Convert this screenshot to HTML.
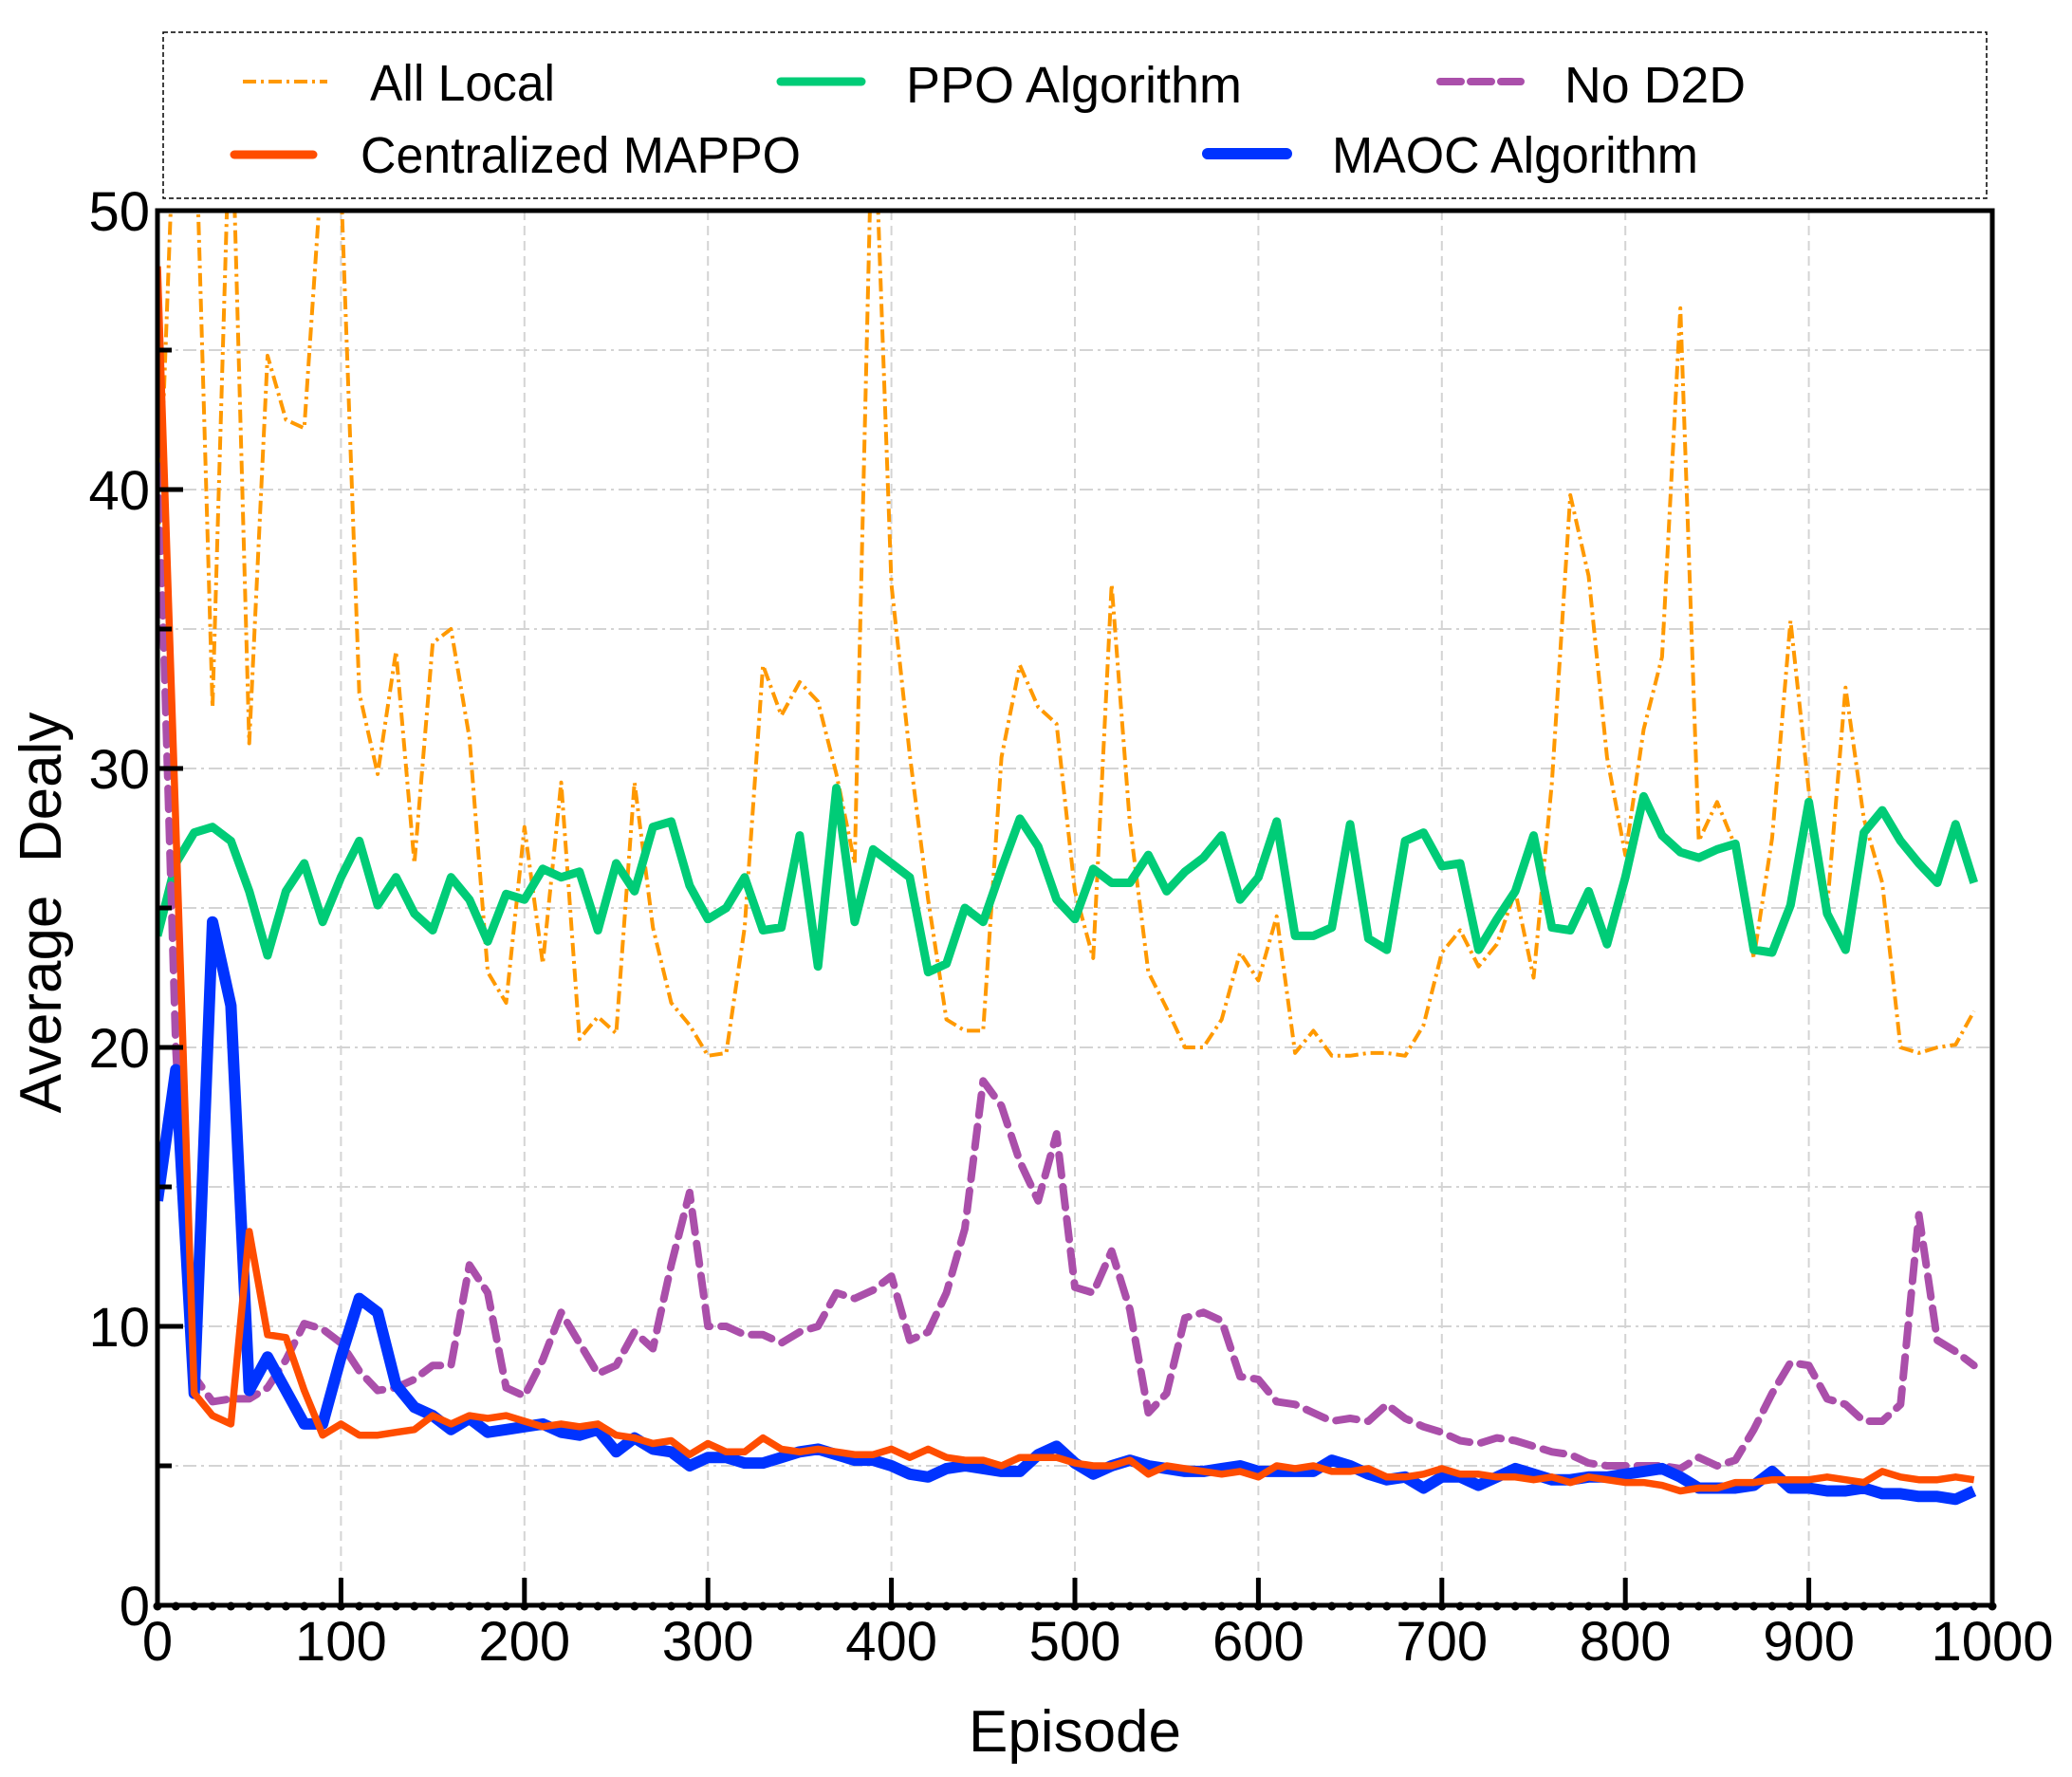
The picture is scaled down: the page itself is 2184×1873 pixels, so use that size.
<!DOCTYPE html>
<html><head><meta charset="utf-8"><style>
html,body{margin:0;padding:0;background:#fff}
svg{display:block}
text{font-family:"Liberation Sans",Arial,sans-serif;fill:#000}
</style></head><body>
<svg id="c" width="2184" height="1873" viewBox="0 0 2184 1873" xmlns="http://www.w3.org/2000/svg">
<defs><clipPath id="pc"><rect x="166" y="222" width="1934" height="1470"/></clipPath></defs>
<rect width="2184" height="1873" fill="#fff"/>
<g id="grid" stroke="#d4d4d4" stroke-width="2" fill="none"></g>
<g id="series" clip-path="url(#pc)" fill="none" stroke-linejoin="round"></g>
<rect x="166" y="222" width="1934" height="1470" fill="none" stroke="#000" stroke-width="5"/>
<g id="ticks" stroke="#000" stroke-width="5"></g>
<g id="labels" font-size="58"></g>
<text x="1133" y="1846" font-size="62" text-anchor="middle">Episode</text>
<text transform="translate(64,962) rotate(-90)" font-size="62" text-anchor="middle" xml:space="preserve">Average  Dealy</text>
<rect x="172" y="34" width="1922" height="175" fill="#fff" stroke="#000" stroke-width="1.5" stroke-dasharray="5 3"/>
<line x1="256" y1="86" x2="345" y2="86" stroke="#FF9900" stroke-width="4" stroke-dasharray="14 5 3 5"/>
<text x="390" y="106" font-size="54" textLength="195" lengthAdjust="spacingAndGlyphs">All Local</text>
<line x1="823" y1="86" x2="908" y2="86" stroke="#00CC77" stroke-width="9" stroke-linecap="round"/>
<text x="955" y="108" font-size="54" textLength="354" lengthAdjust="spacingAndGlyphs">PPO Algorithm</text>
<line x1="1518" y1="86" x2="1603" y2="86" stroke="#AA4FAA" stroke-width="8" stroke-dasharray="22 10" stroke-linecap="round"/>
<text x="1649" y="108" font-size="54" textLength="191" lengthAdjust="spacingAndGlyphs">No D2D</text>
<line x1="247" y1="163" x2="330" y2="163" stroke="#FF4D00" stroke-width="9" stroke-linecap="round"/>
<text x="380" y="182" font-size="54" textLength="464" lengthAdjust="spacingAndGlyphs">Centralized MAPPO</text>
<line x1="1273" y1="162" x2="1356" y2="162" stroke="#0033FF" stroke-width="12" stroke-linecap="round"/>
<text x="1404" y="182" font-size="54" textLength="386" lengthAdjust="spacingAndGlyphs">MAOC Algorithm</text>
</svg>
<script>
(function(){
var NS="http://www.w3.org/2000/svg";
function X(e){return 166+e*1.934;}
function Y(v){return 1692-v*29.4;}
function el(p,tag,a){var e=document.createElementNS(NS,tag);for(var k in a)e.setAttribute(k,a[k]);p.appendChild(e);return e;}
var grid=document.getElementById('grid');
for(var e=100;e<1000;e+=100){el(grid,'line',{x1:X(e),y1:222,x2:X(e),y2:1692,'stroke-dasharray':'10 6'});}
for(var v=5;v<50;v+=5){el(grid,'line',{x1:166,y1:Y(v),x2:2100,y2:Y(v),'stroke-dasharray':'14 5 3 5'});}
var t=document.getElementById('ticks');
for(var e=100;e<1000;e+=100){el(t,'line',{x1:X(e),y1:1692,x2:X(e),y2:1663});}
for(var e=0;e<=1000;e+=10){el(t,'circle',{cx:X(e),cy:1693,r:4.5,fill:'#000',stroke:'none'});}
for(var v=10;v<50;v+=10){el(t,'line',{x1:166,y1:Y(v),x2:193,y2:Y(v)});}
for(var v=5;v<50;v+=10){el(t,'line',{x1:166,y1:Y(v),x2:181,y2:Y(v)});}
var L=document.getElementById('labels');
for(var v=0;v<=50;v+=10){var tx=el(L,'text',{x:158,y:Y(v)+21,'text-anchor':'end'});tx.textContent=String(v);}
for(var e=0;e<=1000;e+=100){var tx=el(L,'text',{x:X(e),y:1750,'text-anchor':'middle'});tx.textContent=String(e);}
var orange=[37.2,55,55,32.2,55,30.9,44.8,42.5,42.2,52,51,32.7,29.8,34.2,26.6,34.5,35,31.1,22.7,21.6,27.9,23,29.5,20.3,21.1,20.5,29.5,24.3,21.6,20.8,19.7,19.8,24.3,33.7,31.9,33.1,32.4,29.8,26.6,55,36.6,30.5,25.3,21,20.6,20.6,30.4,33.7,32.2,31.6,25.6,23.2,36.6,28,22.7,21.4,20,20,21,23.4,22.4,24.7,19.8,20.6,19.7,19.7,19.8,19.8,19.7,20.8,23.4,24.2,22.9,23.7,25.6,22.5,29.5,39.8,36.9,30.4,26.9,31.4,34,46.5,27.4,28.8,27.2,23.2,27.5,35.3,29.2,25,32.9,28.2,25.9,20,19.8,20,20.1,21.3];
var green=[24.0,26.6,27.7,27.9,27.4,25.6,23.3,25.6,26.6,24.5,26.1,27.4,25.1,26.1,24.8,24.2,26.1,25.3,23.8,25.5,25.3,26.4,26.1,26.3,24.2,26.6,25.6,27.9,28.1,25.8,24.6,25.0,26.1,24.2,24.3,27.6,22.9,29.3,24.5,27.1,26.6,26.1,22.7,23.0,25.0,24.5,26.4,28.2,27.2,25.3,24.6,26.4,25.9,25.9,26.9,25.6,26.3,26.8,27.6,25.3,26.1,28.1,24.0,24.0,24.3,28.0,23.9,23.5,27.4,27.7,26.5,26.6,23.5,24.6,25.6,27.6,24.3,24.2,25.6,23.7,26.1,29.0,27.6,27.0,26.8,27.1,27.3,23.5,23.4,25.1,28.8,24.8,23.5,27.7,28.5,27.4,26.6,25.9,28.0,25.9];
var purple=[42,20,8.2,7.3,7.4,7.4,7.8,8.8,10.1,9.9,9.4,8.4,7.7,7.8,8.1,8.6,8.6,12.2,11.2,7.8,7.5,8.8,10.5,9.4,8.3,8.6,9.8,9.2,12.2,14.8,10,10,9.7,9.7,9.4,9.8,10,11.2,11,11.3,11.8,9.5,9.8,11.2,13.5,18.8,17.9,15.9,14.5,16.9,11.4,11.2,12.7,10.6,6.9,7.6,10.3,10.5,10.2,8.2,8.1,7.3,7.2,6.9,6.6,6.7,6.6,7.2,6.7,6.4,6.2,5.9,5.8,6.0,5.9,5.7,5.5,5.4,5.1,5.0,5.0,5.0,5.0,4.9,5.3,5.0,5.2,6.3,7.6,8.7,8.6,7.4,7.2,6.6,6.6,7.2,14.0,9.5,9.1,8.6];
var blue=[14.5,19.2,7.6,24.5,21.5,7.7,8.9,7.7,6.5,6.5,8.9,11.0,10.5,7.9,7.1,6.8,6.3,6.7,6.2,6.3,6.4,6.5,6.2,6.1,6.3,5.5,6.0,5.6,5.5,5.0,5.3,5.3,5.1,5.1,5.3,5.5,5.6,5.4,5.2,5.2,5.0,4.7,4.6,4.9,5.0,4.9,4.8,4.8,5.4,5.7,5.1,4.7,5.0,5.2,5.0,4.9,4.8,4.8,4.9,5.0,4.8,4.8,4.8,4.8,5.2,5.0,4.7,4.5,4.6,4.2,4.6,4.6,4.3,4.6,4.9,4.7,4.5,4.5,4.6,4.6,4.7,4.8,4.9,4.6,4.2,4.2,4.2,4.3,4.8,4.2,4.2,4.1,4.1,4.2,4.0,4.0,3.9,3.9,3.8,4.1];
var red=[48,28,7.6,6.8,6.5,13.4,9.7,9.6,7.7,6.1,6.5,6.1,6.1,6.2,6.3,6.8,6.5,6.8,6.7,6.8,6.6,6.4,6.5,6.4,6.5,6.1,6.0,5.8,5.9,5.4,5.8,5.5,5.5,6.0,5.6,5.5,5.6,5.5,5.4,5.4,5.6,5.3,5.6,5.3,5.2,5.2,5.0,5.3,5.3,5.3,5.1,5.0,5.0,5.2,4.7,5.0,4.9,4.8,4.7,4.8,4.6,5.0,4.9,5.0,4.8,4.8,4.9,4.6,4.6,4.7,4.9,4.7,4.7,4.6,4.6,4.5,4.6,4.4,4.6,4.5,4.4,4.4,4.3,4.1,4.2,4.2,4.4,4.4,4.5,4.5,4.5,4.6,4.5,4.4,4.8,4.6,4.5,4.5,4.6,4.5];
function pts(a){var s=[];for(var i=0;i<a.length;i++)s.push(X(i*10).toFixed(1)+','+Y(a[i]).toFixed(1));return s.join(' ');}
var S=document.getElementById('series');
el(S,'polyline',{points:pts(orange),stroke:'#FF9900','stroke-width':4,'stroke-dasharray':'14 5 3 5'});
el(S,'polyline',{points:pts(green),stroke:'#00CC77','stroke-width':9});
el(S,'polyline',{points:pts(purple),stroke:'#AA4FAA','stroke-width':8,'stroke-dasharray':'22 12','stroke-linecap':'round'});
el(S,'polyline',{points:pts(blue),stroke:'#0033FF','stroke-width':12});
el(S,'polyline',{points:pts(red),stroke:'#FF4D00','stroke-width':7.5});
})();
</script>
</body></html>
